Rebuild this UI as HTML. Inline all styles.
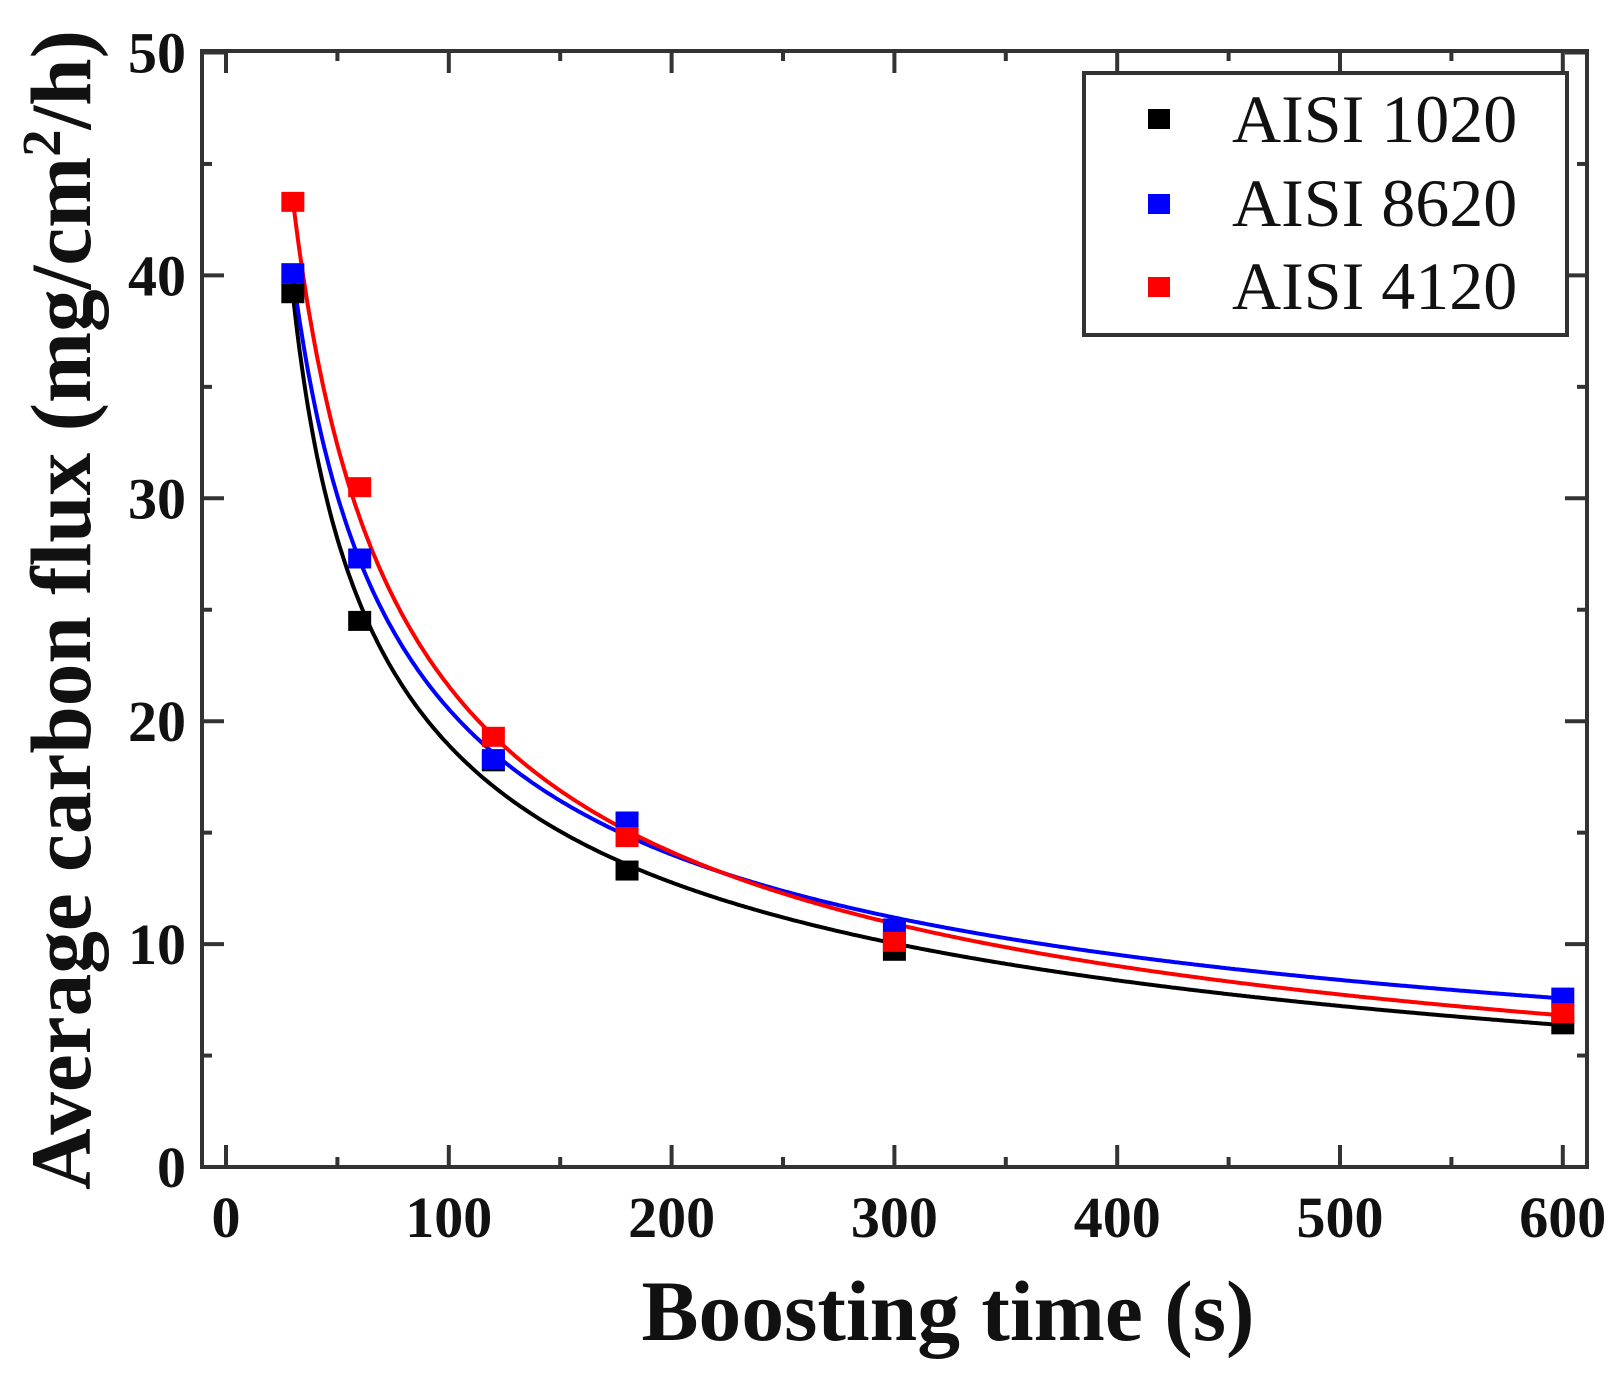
<!DOCTYPE html>
<html><head><meta charset="utf-8"><style>
html,body{margin:0;padding:0;background:#fff;}
svg{display:block;}
text{font-family:"Liberation Serif",serif;}
</style></head><body>
<svg id="s" width="1619" height="1381" xmlns="http://www.w3.org/2000/svg">
<rect x="0" y="0" width="1619" height="1381" fill="#fff"/>
<g id="curves"></g>
<g id="marks"></g>
<rect x="202" y="51" width="1385" height="1116" fill="none" stroke="#333" stroke-width="4"/>
<g id="ticks" stroke="#333" stroke-width="4"></g>
<g font-weight="bold" font-size="58" fill="#111" id="labels"></g>
<text x="948" y="1340" text-anchor="middle" font-weight="bold" font-size="86" textLength="613" lengthAdjust="spacingAndGlyphs" fill="#111">Boosting time (s)</text>
<text transform="translate(90,610) rotate(-90)" text-anchor="middle" font-weight="bold" font-size="86" textLength="1160" lengthAdjust="spacingAndGlyphs" fill="#111">Average carbon flux (mg/cm<tspan font-size="55" dy="-30">2</tspan><tspan dy="30">/h)</tspan></text>
<rect x="1084" y="73" width="483" height="262" fill="#fff" stroke="#333" stroke-width="4"/>
<rect x="1148" y="109" width="22" height="20" fill="#000"/>
<rect x="1148" y="194" width="22" height="20" fill="#00f"/>
<rect x="1148" y="277" width="22" height="20" fill="#f00"/>
<g font-size="68" fill="#111">
<text x="1232" y="142">AISI 1020</text>
<text x="1232" y="226">AISI 8620</text>
<text x="1232" y="309">AISI 4120</text>
</g>
</svg>
<script>
var NS="http://www.w3.org/2000/svg";
function X(v){return 226+v*2.228;}
function Y(v){return 1167-v*22.29;}
function el(p,t,a,txt){var e=document.createElementNS(NS,t);for(var k in a)e.setAttribute(k,a[k]);if(txt!=null)e.textContent=txt;document.getElementById(p).appendChild(e);return e;}
for(var v=0;v<=600;v+=50){var maj=v%100==0;el("ticks","line",{x1:X(v),x2:X(v),y1:1167,y2:1167-(maj?22:10)});el("ticks","line",{x1:X(v),x2:X(v),y1:51,y2:51+(maj?22:10)});
 if(maj)el("labels","text",{x:X(v),y:1237,"text-anchor":"middle"},String(v));}
for(var v=0;v<=50;v+=5){var maj=v%10==0;el("ticks","line",{x1:202,x2:202+(maj?22:10),y1:Y(v),y2:Y(v)});el("ticks","line",{x1:1587,x2:1587-(maj?22:10),y1:Y(v),y2:Y(v)});
 if(maj)el("labels","text",{x:186,y:Y(v)+20,"text-anchor":"end"},String(v));}
var xs=[30,60,120,180,300,600];
var W=[6,1,1,1,2,8];
var S=[["#000",[39.2,24.5,18.2,13.3,9.7,6.4]],["#00f",[40.1,27.3,18.3,15.5,10.7,7.6]],["#f00",[43.3,30.5,19.3,14.8,10.1,6.9]]];
function fit(ys){
 var best=null;
 for(var x0=0;x0<29;x0+=1)for(var b=-2.5;b<=-0.2;b+=0.02)for(var c=-5;c<=8;c+=0.25){
  var sff=0,sfy=0;for(var i=0;i<6;i++){var f=Math.pow(xs[i]-x0,b);sff+=W[i]*f*f;sfy+=W[i]*f*(ys[i]-c);}
  var a=sfy/sff,e=0;for(var i=0;i<6;i++){var r=a*Math.pow(xs[i]-x0,b)+c-ys[i];e+=W[i]*r*r;}
  if(!best||e<best.e)best={e:e,a:a,b:b,c:c,x0:x0};}
 return best;}
S.forEach(function(s){
 var F=fit(s[1]),pts=[];
 for(var x=30;x<=600;x+=1){var y=F.a*Math.pow(x-F.x0,F.b)+F.c;pts.push(X(x).toFixed(1)+","+Y(y).toFixed(1));}
 el("curves","polyline",{points:pts.join(" "),fill:"none",stroke:s[0],"stroke-width":4});
 xs.forEach(function(x,i){el("marks","rect",{x:X(x)-11.5,y:Y(s[1][i])-10,width:23,height:20,fill:s[0]});});
});
</script>
</body></html>
